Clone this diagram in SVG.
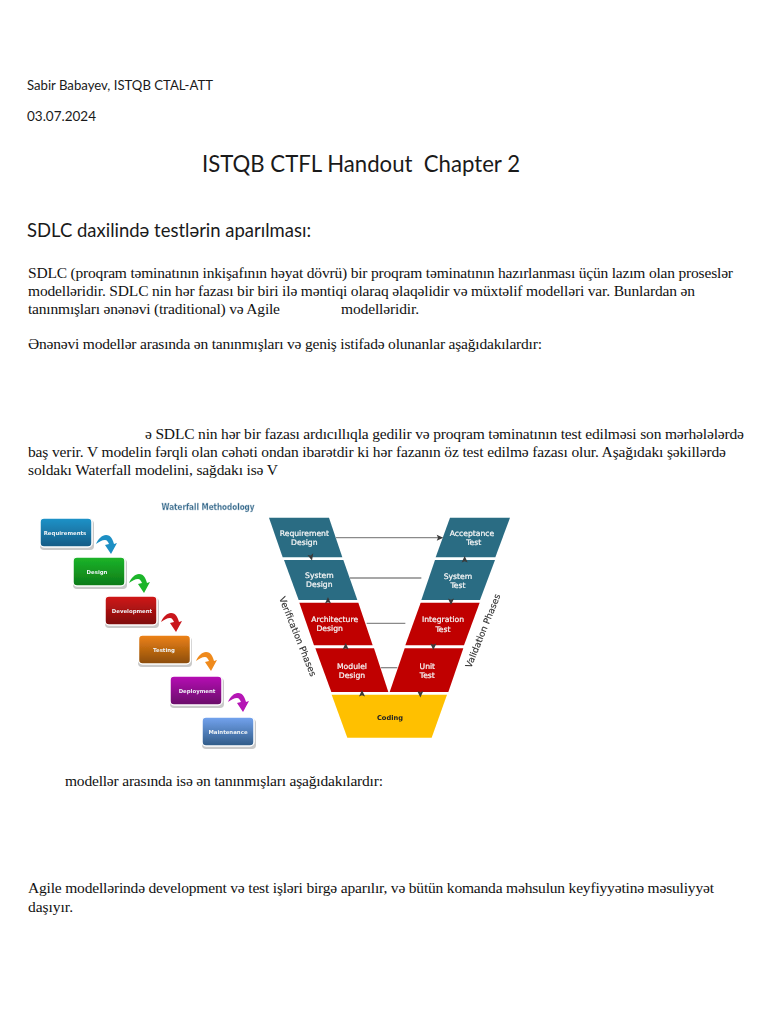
<svg xmlns="http://www.w3.org/2000/svg" width="768" height="1024" viewBox="0 0 768 1024">
<style>
.cal{font-family:Lato,"Noto Sans",sans-serif;fill:#1a1a1a}
.b{font-family:"Liberation Serif","Times New Roman",serif;font-size:15.5px;fill:#111}
.wl{font-family:"DejaVu Sans",sans-serif;font-size:5.4px;font-weight:bold;fill:#eef3f6;text-anchor:middle}
.vl{font-family:"DejaVu Sans",sans-serif;font-size:23px;fill:#f6f6f6;stroke:#f6f6f6;stroke-width:.7;text-anchor:middle}
.ph{font-family:"DejaVu Sans",sans-serif;font-size:27px;fill:#333;stroke:#333;stroke-width:.4;text-anchor:middle}
.teal{fill:#2b6c83}.red{fill:#c00000}.gold{fill:#ffc000}
.ln{stroke:#8a8a8a;stroke-width:4;fill:none}
.hd{fill:#3a3a3a}
.box{stroke:#fff;stroke-width:1.5}
.sh{fill:#c9c9c9}
</style>
<defs>
<filter id="soft" x="-5%" y="-5%" width="110%" height="110%"><feGaussianBlur stdDeviation="0.45"/></filter>
<filter id="soft3" x="-5%" y="-5%" width="110%" height="110%"><feGaussianBlur stdDeviation="1.1"/></filter>
<linearGradient id="g1" x1="0" y1="0" x2="0" y2="1"><stop offset="0" stop-color="#1c93c9"/><stop offset="1" stop-color="#175b85"/></linearGradient>
<linearGradient id="g2" x1="0" y1="0" x2="0" y2="1"><stop offset="0" stop-color="#1cb52a"/><stop offset="1" stop-color="#0d7a18"/></linearGradient>
<linearGradient id="g3" x1="0" y1="0" x2="0" y2="1"><stop offset="0" stop-color="#d21a1a"/><stop offset="1" stop-color="#7c0707"/></linearGradient>
<linearGradient id="g4" x1="0" y1="0" x2="0" y2="1"><stop offset="0" stop-color="#ef8318"/><stop offset="1" stop-color="#8a4c08"/></linearGradient>
<linearGradient id="g5" x1="0" y1="0" x2="0" y2="1"><stop offset="0" stop-color="#b70fb5"/><stop offset="1" stop-color="#680a68"/></linearGradient>
<linearGradient id="g6" x1="0" y1="0" x2="0" y2="1"><stop offset="0" stop-color="#74a4f0"/><stop offset="1" stop-color="#2f5a86"/></linearGradient>
<path id="curl" d="M0 0C2 -5 6 -9 10 -9C15 -9 17 -4 18 0L21 -1L15 10L9 1L13 0C12 -2 11 -4 9 -4C6 -4 3 -2 0 0Z"/>
<polygon id="up" points="0,-9 7,6 0,3 -7,6"/>
</defs>
<g id="header">
<text class="cal" x="27" y="90" font-size="14" textLength="186" lengthAdjust="spacingAndGlyphs">Sabir Babayev, ISTQB CTAL-ATT</text>
<text class="cal" x="27" y="121" font-size="14" textLength="69" lengthAdjust="spacingAndGlyphs">03.07.2024</text>
<text class="cal" x="202" y="172" font-size="24" xml:space="preserve" textLength="318" lengthAdjust="spacingAndGlyphs">ISTQB CTFL Handout  Chapter 2</text>
<text class="cal" x="27" y="237" font-size="19" textLength="284" lengthAdjust="spacingAndGlyphs">SDLC daxilində testlərin aparılması:</text>
</g>
<g id="body">
<text class="b" x="28" y="278" textLength="705" lengthAdjust="spacing">SDLC (proqram təminatının inkişafının həyat dövrü) bir proqram təminatının hazırlanması üçün lazım olan proseslər</text>
<text class="b" x="28" y="296" textLength="667" lengthAdjust="spacing">modelləridir. SDLC nin hər fazası bir biri ilə məntiqi olaraq əlaqəlidir və müxtəlif modelləri var. Bunlardan ən</text>
<text class="b" x="28" y="314" textLength="252" lengthAdjust="spacing">tanınmışları ənənəvi (traditional) və Agile</text>
<text class="b" x="341" y="314" textLength="78" lengthAdjust="spacing">modelləridir.</text>
<text class="b" x="28" y="349" textLength="514" lengthAdjust="spacing">Ənənəvi modellər arasında ən tanınmışları və geniş istifadə olunanlar aşağıdakılardır:</text>
<text class="b" x="145" y="439" textLength="599" lengthAdjust="spacing">ə SDLC nin hər bir fazası ardıcıllıqla gedilir və proqram təminatının test edilməsi son mərhələlərdə</text>
<text class="b" x="28" y="457" textLength="698" lengthAdjust="spacing">baş verir. V modelin fərqli olan cəhəti ondan ibarətdir ki hər fazanın öz test edilmə fazası olur. Aşağıdakı şəkillərdə</text>
<text class="b" x="28" y="475" textLength="250" lengthAdjust="spacing">soldakı Waterfall modelini, sağdakı isə V</text>
<text class="b" x="65" y="786" textLength="318" lengthAdjust="spacing">modellər arasında isə ən tanınmışları aşağıdakılardır:</text>
<text class="b" x="28" y="893" textLength="686" lengthAdjust="spacing">Agile modellərində development və test işləri birgə aparılır, və bütün komanda məhsulun keyfiyyətinə məsuliyyət</text>
<text class="b" x="28" y="912" textLength="45" lengthAdjust="spacing">daşıyır.</text>
</g>
<g id="waterfall" filter="url(#soft)">
<text x="208" y="510" font-family="DejaVu Sans,sans-serif" font-size="8" font-weight="bold" fill="#2f6487" stroke="#b9cbd8" stroke-width=".3" text-anchor="middle" textLength="93" lengthAdjust="spacingAndGlyphs">Waterfall Methodology</text>
<g id="wf-connectors">
<use href="#curl" x="96" y="544" fill="#1f8fc4"/>
<use href="#curl" x="129" y="583" fill="#1db52a"/>
<use href="#curl" x="161" y="622" fill="#c9151b"/>
<use href="#curl" x="196" y="661" fill="#ef8a1d"/>
<use href="#curl" x="228" y="702" fill="#b512b5"/>
</g>
<g id="wf-requirements"><rect class="sh" x="40" y="520" width="54" height="30" rx="4"/><rect class="box" fill="url(#g1)" x="40" y="518" width="52" height="29" rx="4"/><text class="wl" x="65" y="535">Requirements</text></g>
<g id="wf-design"><rect class="sh" x="73" y="559" width="54" height="30" rx="4"/><rect class="box" fill="url(#g2)" x="73" y="557" width="52" height="29" rx="4"/><text class="wl" x="97" y="574">Design</text></g>
<g id="wf-development"><rect class="sh" x="105" y="598" width="54" height="30" rx="4"/><rect class="box" fill="url(#g3)" x="105" y="596" width="52" height="29" rx="4"/><text class="wl" x="132" y="613">Development</text></g>
<g id="wf-testing"><rect class="sh" x="138" y="637" width="54" height="30" rx="4"/><rect class="box" fill="url(#g4)" x="138.500" y="635" width="52" height="29" rx="4"/><text class="wl" x="164" y="652">Testing</text></g>
<g id="wf-deployment"><rect class="sh" x="170" y="678" width="54" height="30" rx="4"/><rect class="box" fill="url(#g5)" x="170" y="676" width="52" height="29" rx="4"/><text class="wl" x="197" y="693">Deployment</text></g>
<g id="wf-maintenance"><rect class="sh" x="202" y="719" width="54" height="30" rx="4"/><rect class="box" fill="url(#g6)" x="202" y="717" width="52" height="29" rx="4"/><text class="wl" x="228" y="734">Maintenance</text></g>
</g>
<g id="vmodel" transform="translate(260 505) scale(.33333)" filter="url(#soft3)">
<g id="v-requirement"><polygon class="teal" points="27,38 207,38 247,157 68,157"/><text class="vl" x="133" y="92">Requirement</text><text class="vl" x="133" y="120">Design</text></g>
<g id="v-system-design"><polygon class="teal" points="72,165 250,165 292,285 116,285"/><text class="vl" x="178" y="219">System</text><text class="vl" x="178" y="246">Design</text></g>
<g id="v-architecture"><polygon class="red" points="118,293 295,293 338,421 162,421"/><text class="vl" x="224" y="351">Architecture</text><text class="vl" x="209" y="379">Design</text></g>
<g id="v-module"><polygon class="red" points="166,430 342,430 385,561 214,561"/><text class="vl" x="276" y="492">Modulel</text><text class="vl" x="276" y="520">Design</text></g>
<g id="v-acceptance"><polygon class="teal" points="570,38 750,38 706,157 527,157"/><text class="vl" x="636" y="92">Acceptance</text><text class="vl" x="641" y="120">Test</text></g>
<g id="v-system-test"><polygon class="teal" points="525,165 705,165 660,285 484,285"/><text class="vl" x="594" y="221">System</text><text class="vl" x="594" y="248">Test</text></g>
<g id="v-integration"><polygon class="red" points="482,293 659,293 612,421 436,421"/><text class="vl" x="549" y="352">Integration</text><text class="vl" x="549" y="380">Test</text></g>
<g id="v-unit"><polygon class="red" points="434,430 610,430 565,561 389,561"/><text class="vl" x="502" y="492">Unit</text><text class="vl" x="502" y="520">Test</text></g>
<g id="v-coding"><polygon class="gold" points="215,569 561,569 515,698 262,698"/><text x="390" y="644" font-family="DejaVu Sans,sans-serif" font-size="20" font-weight="bold" fill="#222" text-anchor="middle">Coding</text></g>
<g id="v-connectors">
<line class="ln" x1="228" y1="98" x2="540" y2="98"/>
<line class="ln" x1="270" y1="219" x2="484" y2="219"/>
<line class="ln" x1="320" y1="355" x2="436" y2="355"/>
<line class="ln" x1="362" y1="488" x2="412" y2="488"/>
<use class="hd" href="#up" transform="translate(538 98) rotate(90) scale(1.3)"/>
<use class="hd" href="#up" transform="translate(153 155) rotate(165) scale(1.3)"/>
<use class="hd" href="#up" transform="translate(204 288) scale(1.3)"/>
<use class="hd" href="#up" transform="translate(257 426) scale(1.3)"/>
<use class="hd" href="#up" transform="translate(306 567) scale(1.3)"/>
<use class="hd" href="#up" transform="translate(614 165) scale(1.3)"/>
<use class="hd" href="#up" transform="translate(573 288) rotate(180) scale(1.3)"/>
<use class="hd" href="#up" transform="translate(520 423) rotate(180) scale(1.3)"/>
<use class="hd" href="#up" transform="translate(481 566) rotate(180) scale(1.3)"/>
</g>
<text class="ph" transform="translate(112 395) rotate(68) translate(0 8)">Verification Phases</text>
<text class="ph" transform="translate(670 378) rotate(-68) translate(0 8)">Validation Phases</text>
</g>
</svg>
